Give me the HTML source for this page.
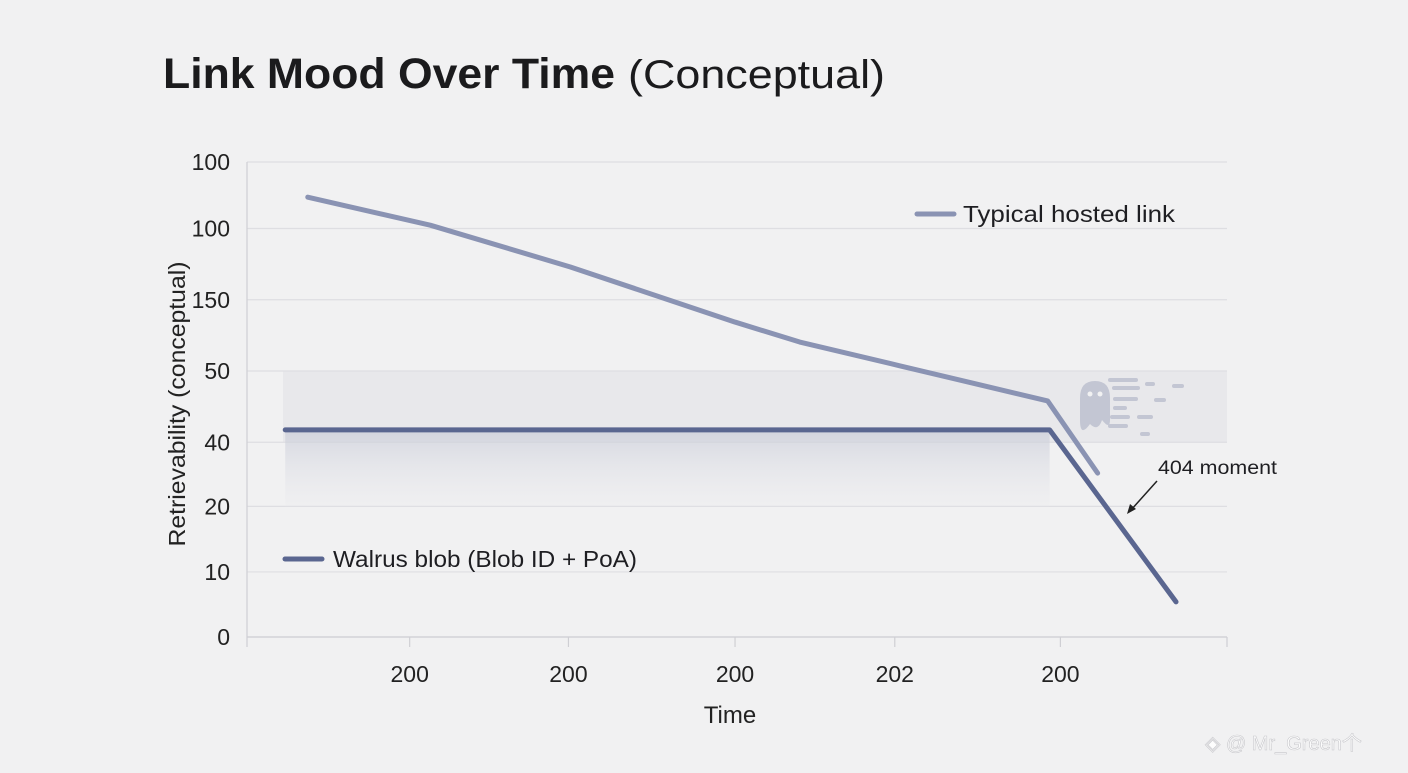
<!DOCTYPE html>
<html><head><meta charset="utf-8"><style>
body{margin:0;background:#f1f1f2;width:1408px;height:768px;overflow:hidden;font-family:"Liberation Sans",sans-serif}
</style></head><body>
<svg width="1408" height="768" font-family="Liberation Sans, Noto Sans CJK SC, sans-serif">
<defs>
<linearGradient id="fillg" x1="0" y1="0" x2="0" y2="1"><stop offset="0" stop-color="#c9ccd8" stop-opacity="0.7"/><stop offset="1" stop-color="#e8e8ec" stop-opacity="0.2"/></linearGradient>
</defs>
<rect width="1408" height="768" fill="#f1f1f2"/>
<text x="163" y="88" fill="#1b1b1d"><tspan font-weight="bold" font-size="43" textLength="452" lengthAdjust="spacingAndGlyphs">Link Mood Over Time</tspan><tspan font-size="40" x="628" textLength="257" lengthAdjust="spacingAndGlyphs">(Conceptual)</tspan></text>
<g id="grid"></g>
<g id="marks"></g>
<text x="730" y="723" font-size="24" text-anchor="middle" fill="#222">Time</text>
<text transform="translate(185,404) rotate(-90)" font-size="23" text-anchor="middle" fill="#222" textLength="285" lengthAdjust="spacingAndGlyphs">Retrievability (conceptual)</text>
<g><line x1="917" y1="214" x2="954" y2="214" stroke="#8a93b3" stroke-width="5" stroke-linecap="round"/><text x="963" y="222" font-size="23" fill="#1e1e22" textLength="212" lengthAdjust="spacingAndGlyphs">Typical hosted link</text></g>
<g><line x1="285" y1="559" x2="322" y2="559" stroke="#5a6690" stroke-width="5" stroke-linecap="round"/><text x="333" y="567" font-size="23" fill="#1e1e22" textLength="304" lengthAdjust="spacingAndGlyphs">Walrus blob (Blob ID + PoA)</text></g>
<g fill="#c3c6d3">
<path d="M1080 398 q0-17 15-17 q15 0 15 17 v22 q0 10 -8 0 q-4 12-12 4 q-10 14-10-4z"/>
<circle cx="1090" cy="394" r="2.5" fill="#f1f1f2"/><circle cx="1100" cy="394" r="2.5" fill="#f1f1f2"/>
<rect x="1108" y="378" width="30" height="4" rx="2"/><rect x="1112" y="386" width="28" height="4" rx="2"/><rect x="1145" y="382" width="10" height="4" rx="2"/><rect x="1172" y="384" width="12" height="4" rx="2"/>
<rect x="1113" y="397" width="25" height="4" rx="2"/><rect x="1154" y="398" width="12" height="4" rx="2"/><rect x="1113" y="406" width="14" height="4" rx="2"/><rect x="1110" y="415" width="20" height="4" rx="2"/><rect x="1137" y="415" width="16" height="4" rx="2"/><rect x="1108" y="424" width="20" height="4" rx="2"/><rect x="1140" y="432" width="10" height="4" rx="2"/>
</g>
<g>
<text x="1158" y="474" font-size="19" fill="#1e1e22" textLength="119" lengthAdjust="spacingAndGlyphs">404 moment</text>
<line x1="1157" y1="481" x2="1131" y2="510" stroke="#222" stroke-width="1.5"/>
<path d="M1127 514 l3-10 l6 5z" fill="#222"/>
</g>
<text x="1205" y="750" font-size="20" fill="#fdfdfd" stroke="#c8c8cc" stroke-width="0.6">◈ @ Mr_Green个</text>
</svg>
<script>
const yTickVals=[100,86,71,56,41,27.5,13.7,0];
const yTickLabels=["100","100","150","50","40","20","10","0"];
const xTickVals=[16.6,32.8,49.8,66.1,83];
const xTickLabels=["200","200","200","202","200"];
const typicalX=[6.2,18.7,33,49.8,56.4,66.6,81.7,86.8];
const typicalY=[92.6,86.7,77.9,66.3,62.1,57.1,49.7,34.5];
const walrusX=[3.9,81.9,94.8];
const walrusY=[43.6,43.6,7.4];
const X0=247,X1=1227,Y0=637,Y1=162;
function sx(v){return X0+(X1-X0)*v/100}
function sy(v){return Y0-(Y0-Y1)*v/100}
const NS="http://www.w3.org/2000/svg";
function mk(t,a,p){const e=document.createElementNS(NS,t);for(const k in a)e.setAttribute(k,a[k]);p.appendChild(e);return e}
const g=document.getElementById('grid'),m=document.getElementById('marks');
let band=mk('rect',{x:283,y:sy(56),width:X1-283,height:sy(41)-sy(56),fill:'#e8e8eb'},g);


yTickVals.forEach((v,i)=>{
 const l=mk('line',{x1:X0,x2:X1,y1:sy(v),y2:sy(v),stroke:'#dedee2','stroke-width':1.2},g);
 
 
 const t=mk('text',{x:230,y:sy(v)+8,'font-size':23,'text-anchor':'end',fill:'#222'},g);
 t.textContent=yTickLabels[i];
 
 
});
mk('line',{x1:X0,x2:X0,y1:Y1,y2:Y0+10,stroke:'#cfcfd4','stroke-width':1.2},g);
mk('line',{x1:X0,x2:X1,y1:Y0,y2:Y0,stroke:'#cfcfd4','stroke-width':1.2},g);
mk('line',{x1:X1,x2:X1,y1:Y0,y2:Y0+10,stroke:'#cfcfd4','stroke-width':1.2},g);
xTickVals.forEach((v,i)=>{
 mk('line',{x1:sx(v),x2:sx(v),y1:Y0,y2:Y0+10,stroke:'#cfcfd4','stroke-width':1.2},g);
 const t=mk('text',{x:sx(v),y:682,'font-size':23,'text-anchor':'middle',fill:'#222'},g);
 t.textContent=xTickLabels[i];
 
 
});
const f=mk('rect',{x:sx(walrusX[0]),y:sy(walrusY[0]),width:sx(walrusX[1])-sx(walrusX[0]),height:sy(27.5)-sy(walrusY[0]),fill:'url(#fillg)'},m);


const tp=mk('polyline',{points:typicalX.map((x,i)=>sx(x)+','+sy(typicalY[i])).join(' '),fill:'none',stroke:'#8a93b3','stroke-width':5,'stroke-linecap':'round','stroke-linejoin':'round'},m);


const wp=mk('polyline',{points:walrusX.map((x,i)=>sx(x)+','+sy(walrusY[i])).join(' '),fill:'none',stroke:'#5a6690','stroke-width':5,'stroke-linecap':'round','stroke-linejoin':'round'},m);


</script>
</body></html>
